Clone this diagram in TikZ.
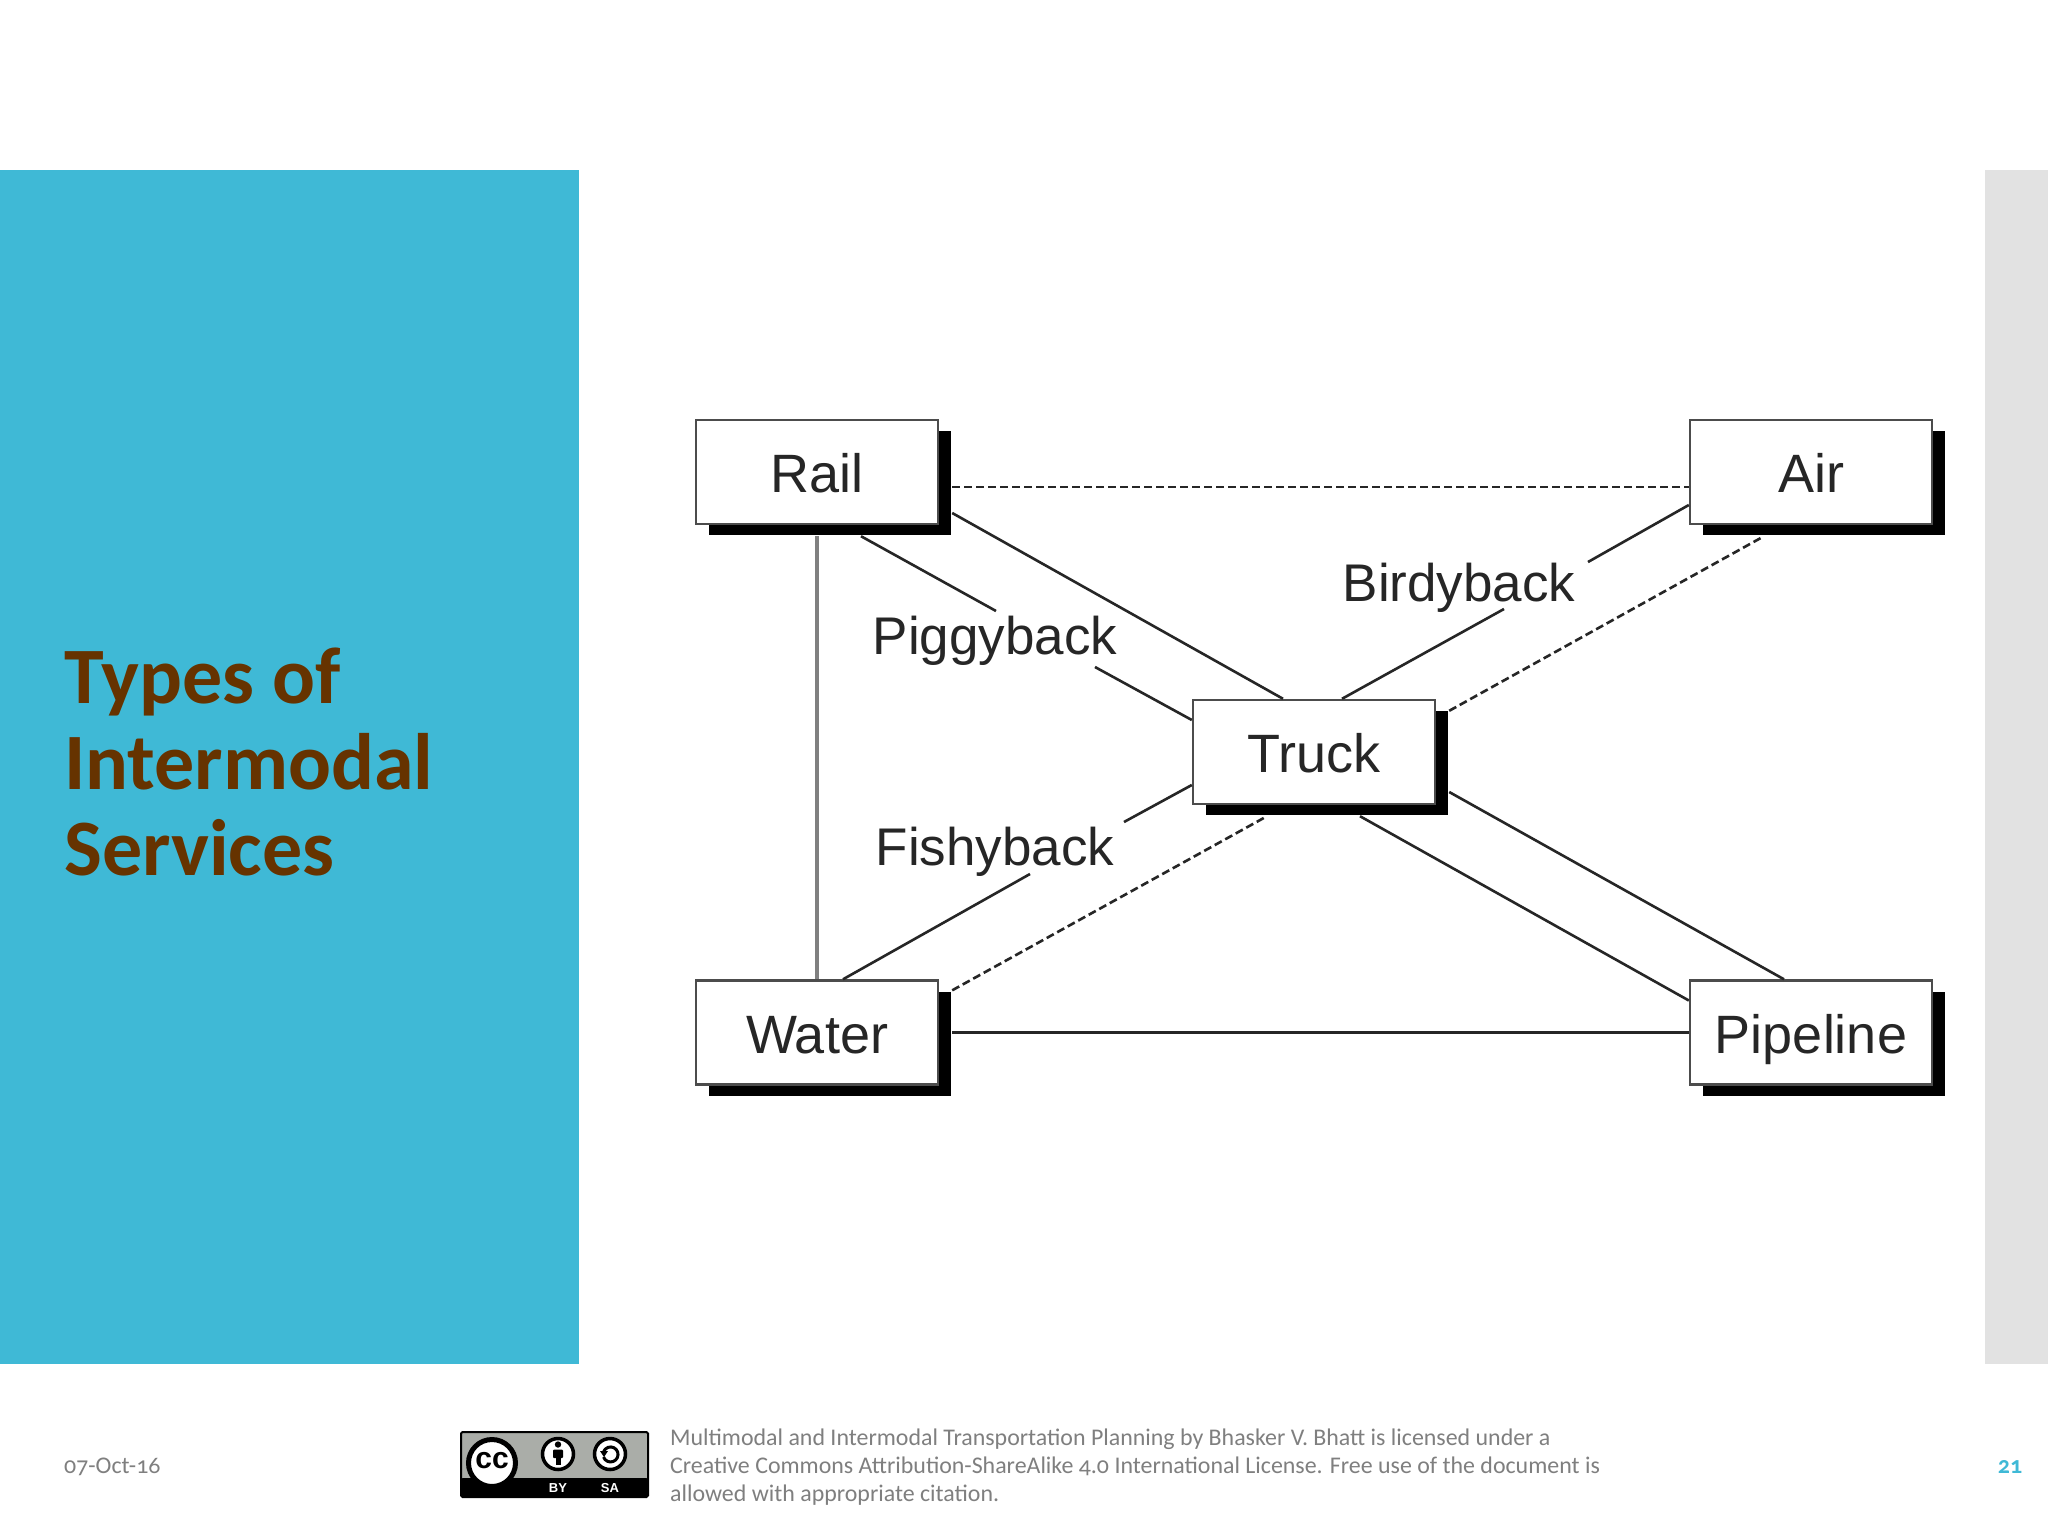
\documentclass[tikz,border=0pt]{standalone}
\usepackage{fontspec}
\setmainfont{Carlito}[Numbers=OldStyle]
\newfontfamily\boxfont{Liberation Sans}
\usetikzlibrary{shadows,arrows.meta}
\definecolor{panelblue}{HTML}{3FB9D6}
\definecolor{sidegray}{HTML}{E2E2E2}
\definecolor{titlebrown}{HTML}{663300}
\definecolor{footgray}{HTML}{7F7F7F}
\definecolor{badgegray}{HTML}{AAADA8}
\tikzset{
  modebox/.style={draw=black!70, line width=2.4pt, fill=white, minimum width=242pt, minimum height=104pt,
    inner sep=0pt, text=black!85, text height=53pt, text depth=12pt, font=\boxfont\fontsize{54}{54}\selectfont,
    drop shadow={shadow xshift=13pt, shadow yshift=-11pt, fill=black, opacity=1}},
  linktext/.style={inner sep=0pt, text height=48pt, text depth=14pt, font=\boxfont\fontsize{53}{53}\selectfont, text=black!85},
  solidlink/.style={draw=black!85, line width=2.6pt},
  dashlink/.style={draw=black!85, line width=2.6pt, dash pattern=on 8pt off 4pt},
  footer/.style={inner sep=0pt, text=footgray, font=\fontsize{23.9}{28}\selectfont},
  ccring/.style={draw=black, fill=white},
  badgetext/.style={inner sep=0pt, text=white, font=\boxfont\bfseries\fontsize{13}{13}\selectfont}
}
\begin{document}
\begin{tikzpicture}[x=1pt, y=-1pt]
    \useasboundingbox (0,0) rectangle (2048,1536);
    \fill[white] (0,0) rectangle (2048,1536);
    \fill[panelblue] (0,170) rectangle (579,1364);
    \fill[sidegray] (1985,170) rectangle (2048,1364);
    % slide title
    \node[anchor=west, inner sep=0pt, text=titlebrown, align=left, font=\bfseries\fontsize{80}{86}\selectfont] (title) at (64,762)
      {Types of\\Intermodal\\Services};
    % the five modes
    \node[modebox] (rail) at (817,472) {Rail};
    \node[modebox] (air) at (1811,472) {Air};
    \node[modebox] (truck) at (1314,752) {Truck};
    \node[modebox] (water) at (817,1032.5) {Water};
    \node[modebox] (pipe) at (1811,1032.5) {Pipeline};
    \node[linktext] (piggy) at (995,637) {Piggyback};
    \node[linktext] (fishy) at (995,848) {Fishyback};
    \node[linktext] (birdy) at (1459,584) {Birdyback};
    % links
    \draw[draw=black!50, line width=4.5pt] ([yshift=-11pt]rail.south) -- (water.north);
    \draw[dashlink] ([shift={(13,15)}]rail.east) -- ([shift={(0,15)}]air.west);
    \draw[solidlink] ([shift={(13,41)}]rail.east) -- ([xshift=-31pt]truck.north);
    \draw[solidlink] ([shift={(44,11)}]rail.south) -- ([shift={(1,-26)}]piggy.center);
    \draw[solidlink] ([shift={(100,30)}]piggy.center) -- ([shift={(0,-32)}]truck.west);
    \draw[solidlink] ([shift={(0,33)}]truck.west) -- ([shift={(129,-26)}]fishy.center);
    \draw[solidlink] ([shift={(35,26)}]fishy.center) -- ([xshift=26pt]water.north);
    \draw[dashlink] ([shift={(13,11)}]water.north east) -- ([shift={(-47,11)}]truck.south);
    \draw[solidlink] ([xshift=28pt]truck.north) -- ([shift={(45,25)}]birdy.center);
    \draw[solidlink] ([shift={(129,-22)}]birdy.center) -- ([shift={(0,33)}]air.west);
    \draw[dashlink] ([shift={(13,12)}]truck.north east) -- ([shift={(-47,11)}]air.south);
    \draw[solidlink] ([shift={(13,40)}]truck.east) -- ([xshift=-27pt]pipe.north);
    \draw[solidlink] ([shift={(46,11)}]truck.south) -- ([shift={(0,-32)}]pipe.west);
    \draw[solidlink] ([xshift=13pt]water.east) -- (pipe.west);
    % footer
    \node[footer, anchor=west] (date) at (64,1467) {07-Oct-16};
    \node[footer, anchor=west, align=left] (licence) at (670,1467.5)
      {Multimodal and Intermodal Transportation Planning by Bhasker V. Bhatt is licensed under a\\
       Creative Commons Attribution-ShareAlike 4.0 International License. Free use of the document is\\
       allowed with appropriate citation.};
    \node[anchor=center, inner sep=0pt, text=panelblue, font=\bfseries\fontsize{24}{24}\selectfont] (page) at (2010,1467) {21};
    % cc badge
    \fill[badgegray, rounded corners=1.5pt] (461,1432) rectangle (648,1497);
    \fill[black, rounded corners=1.5pt] (461,1478) rectangle (648,1497);
    \draw[black, line width=2pt, rounded corners=1.5pt] (461,1432) rectangle (648,1497);
    \draw[ccring, line width=5pt] (492,1463) circle (23.5);
    \node[inner sep=0pt, font=\boxfont\bfseries\fontsize{30}{30}\selectfont] (cc) at (492,1461) {cc};
    \draw[ccring, line width=3.5pt] (558,1454) circle (15.5);
    \fill[black] (558,1444.5) circle (3.2);
    \fill[black, rounded corners=1pt] (553,1449.5) rectangle (563,1458);
    \fill[black] (555.5,1458) rectangle (560.5,1465);
    \draw[ccring, line width=3.5pt] (610,1454) circle (15.5);
    \draw[black, line width=3pt] (603.5,1457) arc[start angle=160, end angle=-160, radius=7.5];
    \fill[black] (600,1451) -- (608,1451) -- (604,1457) -- cycle;
    \node[badgetext] (by) at (558,1488) {BY};
    \node[badgetext] (sa) at (610,1488) {SA};
  \end{tikzpicture}
\end{document}
